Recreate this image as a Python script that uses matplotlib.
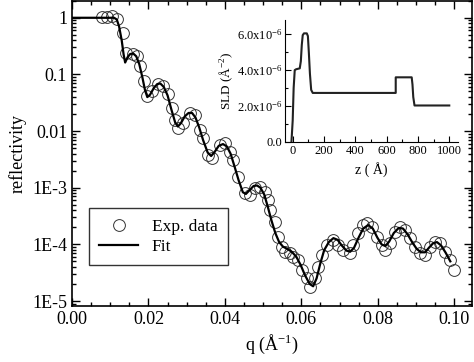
import matplotlib
matplotlib.use("Agg")
import matplotlib.pyplot as plt
import numpy as np
from matplotlib.ticker import FixedLocator, FixedFormatter, MultipleLocator, LogLocator, NullFormatter

q_exp = [0.00785, 0.00916, 0.01047, 0.01178, 0.01335, 0.01414, 0.01597, 0.01702, 0.01780, 0.01885,
         0.01963, 0.02094, 0.02251, 0.02382, 0.02513, 0.02618, 0.02696, 0.02775, 0.02906, 0.03089,
         0.03220, 0.03351, 0.03429, 0.03560, 0.03665, 0.03874, 0.04005, 0.04136, 0.04215, 0.04346,
         0.04529, 0.04660, 0.04791, 0.04921, 0.05052, 0.05131, 0.05183, 0.05314, 0.05393, 0.05497,
         0.05576, 0.05707, 0.05785, 0.05916, 0.06021, 0.06152, 0.06230, 0.06361, 0.06440, 0.06545,
         0.06675, 0.06832, 0.06963, 0.07094, 0.07277, 0.07356, 0.07487, 0.07618, 0.07723, 0.07853,
         0.07984, 0.08115, 0.08194, 0.08325, 0.08455, 0.08586, 0.08717, 0.08848, 0.08979, 0.09110,
         0.09241, 0.09372, 0.09503, 0.09634, 0.09764, 0.09895, 0.10000]
log_r_exp = [0.018, 0.018, 0.035, -0.018, -0.264, -0.616, -0.634, -0.669, -0.845, -1.109,
             -1.373, -1.285, -1.162, -1.197, -1.338, -1.585, -1.813, -1.937, -1.849, -1.673,
             -1.725, -1.989, -2.130, -2.430, -2.482, -2.254, -2.218, -2.377, -2.518, -2.817,
             -3.099, -3.134, -3.011, -2.993, -3.081, -3.222, -3.398, -3.609, -3.873, -4.049,
             -4.137, -4.155, -4.225, -4.278, -4.454, -4.595, -4.754, -4.595, -4.401, -4.190,
             -4.014, -3.926, -4.014, -4.102, -4.155, -4.014, -3.803, -3.662, -3.627, -3.697,
             -3.873, -4.014, -4.102, -3.979, -3.785, -3.697, -3.750, -3.891, -4.049, -4.155,
             -4.190, -4.049, -3.961, -3.979, -4.137, -4.278, -4.454]

# fitted curve
q_fit = [0.0, 0.0110, 0.0117, 0.0123, 0.0130, 0.0135, 0.0139, 0.0145, 0.0152, 0.0160,
         0.0168, 0.0176, 0.0184, 0.0191, 0.0197, 0.0204, 0.0214, 0.0223, 0.0231, 0.0240,
         0.0250, 0.0260, 0.0270, 0.0277, 0.0285, 0.0295, 0.0305, 0.0314, 0.0323, 0.0333,
         0.0343, 0.0355, 0.0364, 0.0373, 0.0384, 0.0395, 0.0405, 0.0415, 0.0425, 0.0436,
         0.0447, 0.0455, 0.0465, 0.0475, 0.0484, 0.0493, 0.0503, 0.0512, 0.0522, 0.0532,
         0.0542, 0.0552, 0.0563, 0.0575, 0.0587, 0.0598, 0.0610, 0.0622, 0.0631, 0.0640,
         0.0650, 0.0660, 0.0672, 0.0684, 0.0695, 0.0706, 0.0718, 0.0728, 0.0738, 0.0750,
         0.0762, 0.0775, 0.0787, 0.0799, 0.0810, 0.0820, 0.0830, 0.0842, 0.0855, 0.0866,
         0.0878, 0.0890, 0.0902, 0.0913, 0.0924, 0.0934, 0.0945, 0.0955, 0.0966, 0.0978,
         0.0990]
log_r_fit = [0.0, 0.0, -0.03, -0.15, -0.40, -0.65, -0.79, -0.70, -0.64, -0.63,
             -0.68, -0.82, -1.05, -1.28, -1.40, -1.36, -1.24, -1.17, -1.16, -1.22,
             -1.37, -1.62, -1.85, -1.92, -1.86, -1.74, -1.68, -1.68, -1.76, -1.94,
             -2.16, -2.38, -2.44, -2.37, -2.26, -2.23, -2.27, -2.40, -2.62, -2.87,
             -3.08, -3.11, -3.04, -2.97, -2.96, -3.00, -3.12, -3.33, -3.58, -3.80,
             -3.96, -4.04, -4.08, -4.13, -4.22, -4.36, -4.55, -4.70, -4.74, -4.60,
             -4.33, -4.10, -3.96, -3.89, -3.92, -4.02, -4.11, -4.13, -4.06, -3.88,
             -3.72, -3.66, -3.72, -3.88, -4.00, -4.03, -3.95, -3.80, -3.71, -3.72,
             -3.82, -3.96, -4.08, -4.14, -4.14, -4.06, -3.98, -3.96, -4.02, -4.15,
             -4.30]

# SLD depth profile (z in A, SLD in 1e-6 A^-2)
z_sld = [-8, 0, 6, 13, 22, 45, 52, 58, 64, 72, 90, 97, 103, 110, 118, 128, 658, 658, 760, 765, 770, 778, 1000]
sld = [0.0, 1.2, 3.0, 4.0, 4.05, 4.1, 4.5, 5.4, 5.95, 6.05, 6.05, 5.9, 5.0, 3.8, 2.9, 2.73, 2.73, 3.6, 3.6, 3.2, 2.5, 2.03, 2.03]

y_ticks = [1e-5, 1e-4, 1e-3, 1e-2, 1e-1, 1]
y_ticklabels = ["1E-5", "1E-4", "1E-3", "0.01", "0.1", "1"]
sld_ticks = [0.0, 2.0e-6, 4.0e-6, 6.0e-6]
sld_ticklabels = ["0.0", r"2.0x10$^{-6}$", r"4.0x10$^{-6}$", r"6.0x10$^{-6}$"]

plt.rcParams["font.family"] = ["Liberation Serif", "DejaVu Serif"]
plt.rcParams["mathtext.fontset"] = "custom"
plt.rcParams["mathtext.rm"] = "Liberation Serif"
plt.rcParams["mathtext.it"] = "Liberation Serif:italic"

fig = plt.figure(figsize=(4.74, 3.62), dpi=100)
ax = fig.add_axes([0.152, 0.155, 0.844, 0.843])

ax.plot(q_exp, 10 ** np.array(log_r_exp), linestyle="none", marker="o", markersize=8.5,
        markerfacecolor="none", markeredgecolor="#333333", markeredgewidth=0.7, label="Exp. data")
ax.plot(q_fit, 10 ** np.array(log_r_fit), color="black", linewidth=1.6, label="Fit")

ax.set_yscale("log")
ax.set_xlim(0, 0.1047)
ax.set_ylim(8.2e-6, 2.0)
ax.xaxis.set_major_locator(MultipleLocator(0.02))
ax.xaxis.set_minor_locator(MultipleLocator(0.005))
ax.xaxis.set_major_formatter(matplotlib.ticker.FormatStrFormatter("%.2f"))
ax.yaxis.set_major_locator(FixedLocator(y_ticks))
ax.yaxis.set_major_formatter(FixedFormatter(y_ticklabels))
ax.yaxis.set_minor_locator(LogLocator(base=10, subs=np.arange(2, 10)))
ax.yaxis.set_minor_formatter(NullFormatter())
ax.tick_params(which="both", direction="in", top=True, right=True, width=1.0, labelsize=13)
ax.tick_params(which="major", length=6)
ax.tick_params(which="minor", length=3)
for s in ax.spines.values():
    s.set_linewidth(1.2)
ax.set_xlabel(r"q (Å$^{-1}$)", fontsize=13)
ax.set_ylabel("reflectivity", fontsize=13, labelpad=4)

leg = ax.legend(loc="lower left", bbox_to_anchor=(0.0425, 0.134), borderaxespad=0, fontsize=12.5,
                frameon=True, fancybox=False, edgecolor="black", handlelength=2.2, borderpad=0.6,
                labelspacing=0.2)
leg.get_frame().set_linewidth(1.0)

ins = fig.add_axes([0.601, 0.608, 0.365, 0.337])
ins.plot(z_sld, np.array(sld) * 1e-6, color="#222222", linewidth=1.5)
ins.set_xlim(-50, 1055)
ins.set_ylim(0, 6.8e-6)
ins.spines["top"].set_visible(False)
ins.spines["right"].set_visible(False)
ins.xaxis.set_major_locator(MultipleLocator(200))
ins.xaxis.set_minor_locator(MultipleLocator(100))
ins.yaxis.set_major_locator(FixedLocator(sld_ticks))
ins.yaxis.set_major_formatter(FixedFormatter(sld_ticklabels))
ins.yaxis.set_minor_locator(MultipleLocator(1e-6))
ins.tick_params(which="both", direction="in", labelsize=9, width=0.8, pad=2)
ins.tick_params(which="major", length=4)
ins.tick_params(which="minor", length=2)
ins.set_xlabel("z ( Å)", fontsize=10, labelpad=4)
ins.set_ylabel(r"SLD (Å$^{-2}$)", fontsize=9.5, labelpad=1)

fig.savefig("out.png", dpi=100)
